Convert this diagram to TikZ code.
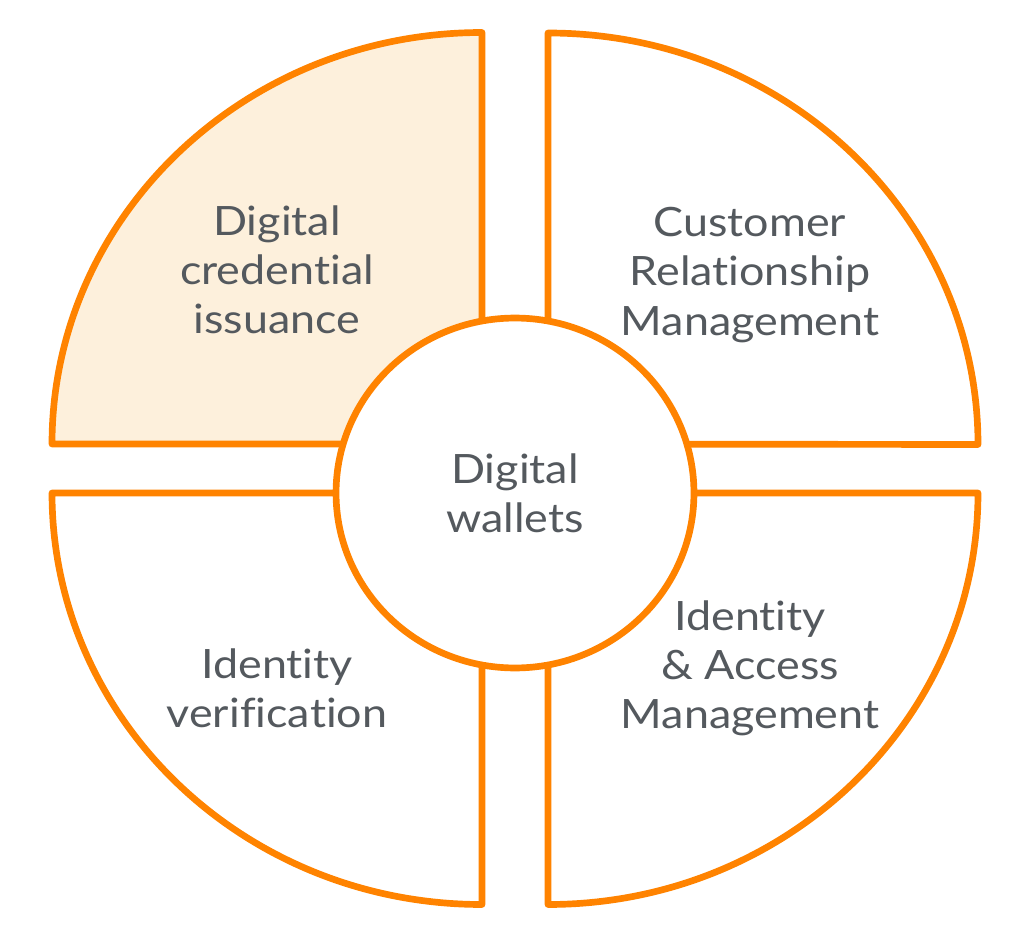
\documentclass[tikz,border=0pt]{standalone}
\usepackage{fontspec}
\setmainfont{Lato}[FakeStretch=1.11, Ligatures={NoCommon,NoRequired,NoContextual}]
\usetikzlibrary{shapes.geometric}
\definecolor{wallorange}{RGB}{255,131,0}
\definecolor{wallpeach}{RGB}{253,240,220}
\definecolor{wallgrey}{RGB}{84,89,94}

\begin{document}
\begin{tikzpicture}[x=0.02cm, y=0.02cm,
  part/.style={draw=wallorange, line width=3.8pt, line join=round, fill=white},
  parttext/.style={align=center, text=wallgrey, inner sep=0pt,
    font=\fontsize{23pt}{28pt}\selectfont}]

\newcommand\RX{430}
\newcommand\RY{411.5}

\useasboundingbox (0,0) rectangle (1024,941); %% page

%% the four quarters
\draw[part, fill=wallpeach](482,497) -- (52,497)
  arc[start angle=180, end angle=90, x radius=\RX, y radius=\RY] -- cycle;
\draw[part](548,497) -- (548,908)
  arc[start angle=90, end angle=0, x radius=\RX, y radius=\RY] -- cycle;
\draw[part](482,448) -- (52,448)
  arc[start angle=180, end angle=270, x radius=\RX, y radius=\RY] -- cycle;
\draw[part](548,448) -- (978,448)
  arc[start angle=0, end angle=-90, x radius=\RX, y radius=\RY] -- cycle;

%% hub
\node[part, parttext, ellipse, minimum width=7.16cm, minimum height=7.0cm]
  (wallet) at (515,448) {Digital\\wallets};

\node[parttext] (issue) at (277,671) {Digital\\credential\\issuance};
\node[parttext] (crm) at (750,666) {Customer\\Relationship\\Management};
\node[parttext] (idv) at (277,253) {Identity\\verification};
\node[parttext] (iam) at (750,273) {Identity\\\&~Access\\Management};

\end{tikzpicture}
\end{document}
